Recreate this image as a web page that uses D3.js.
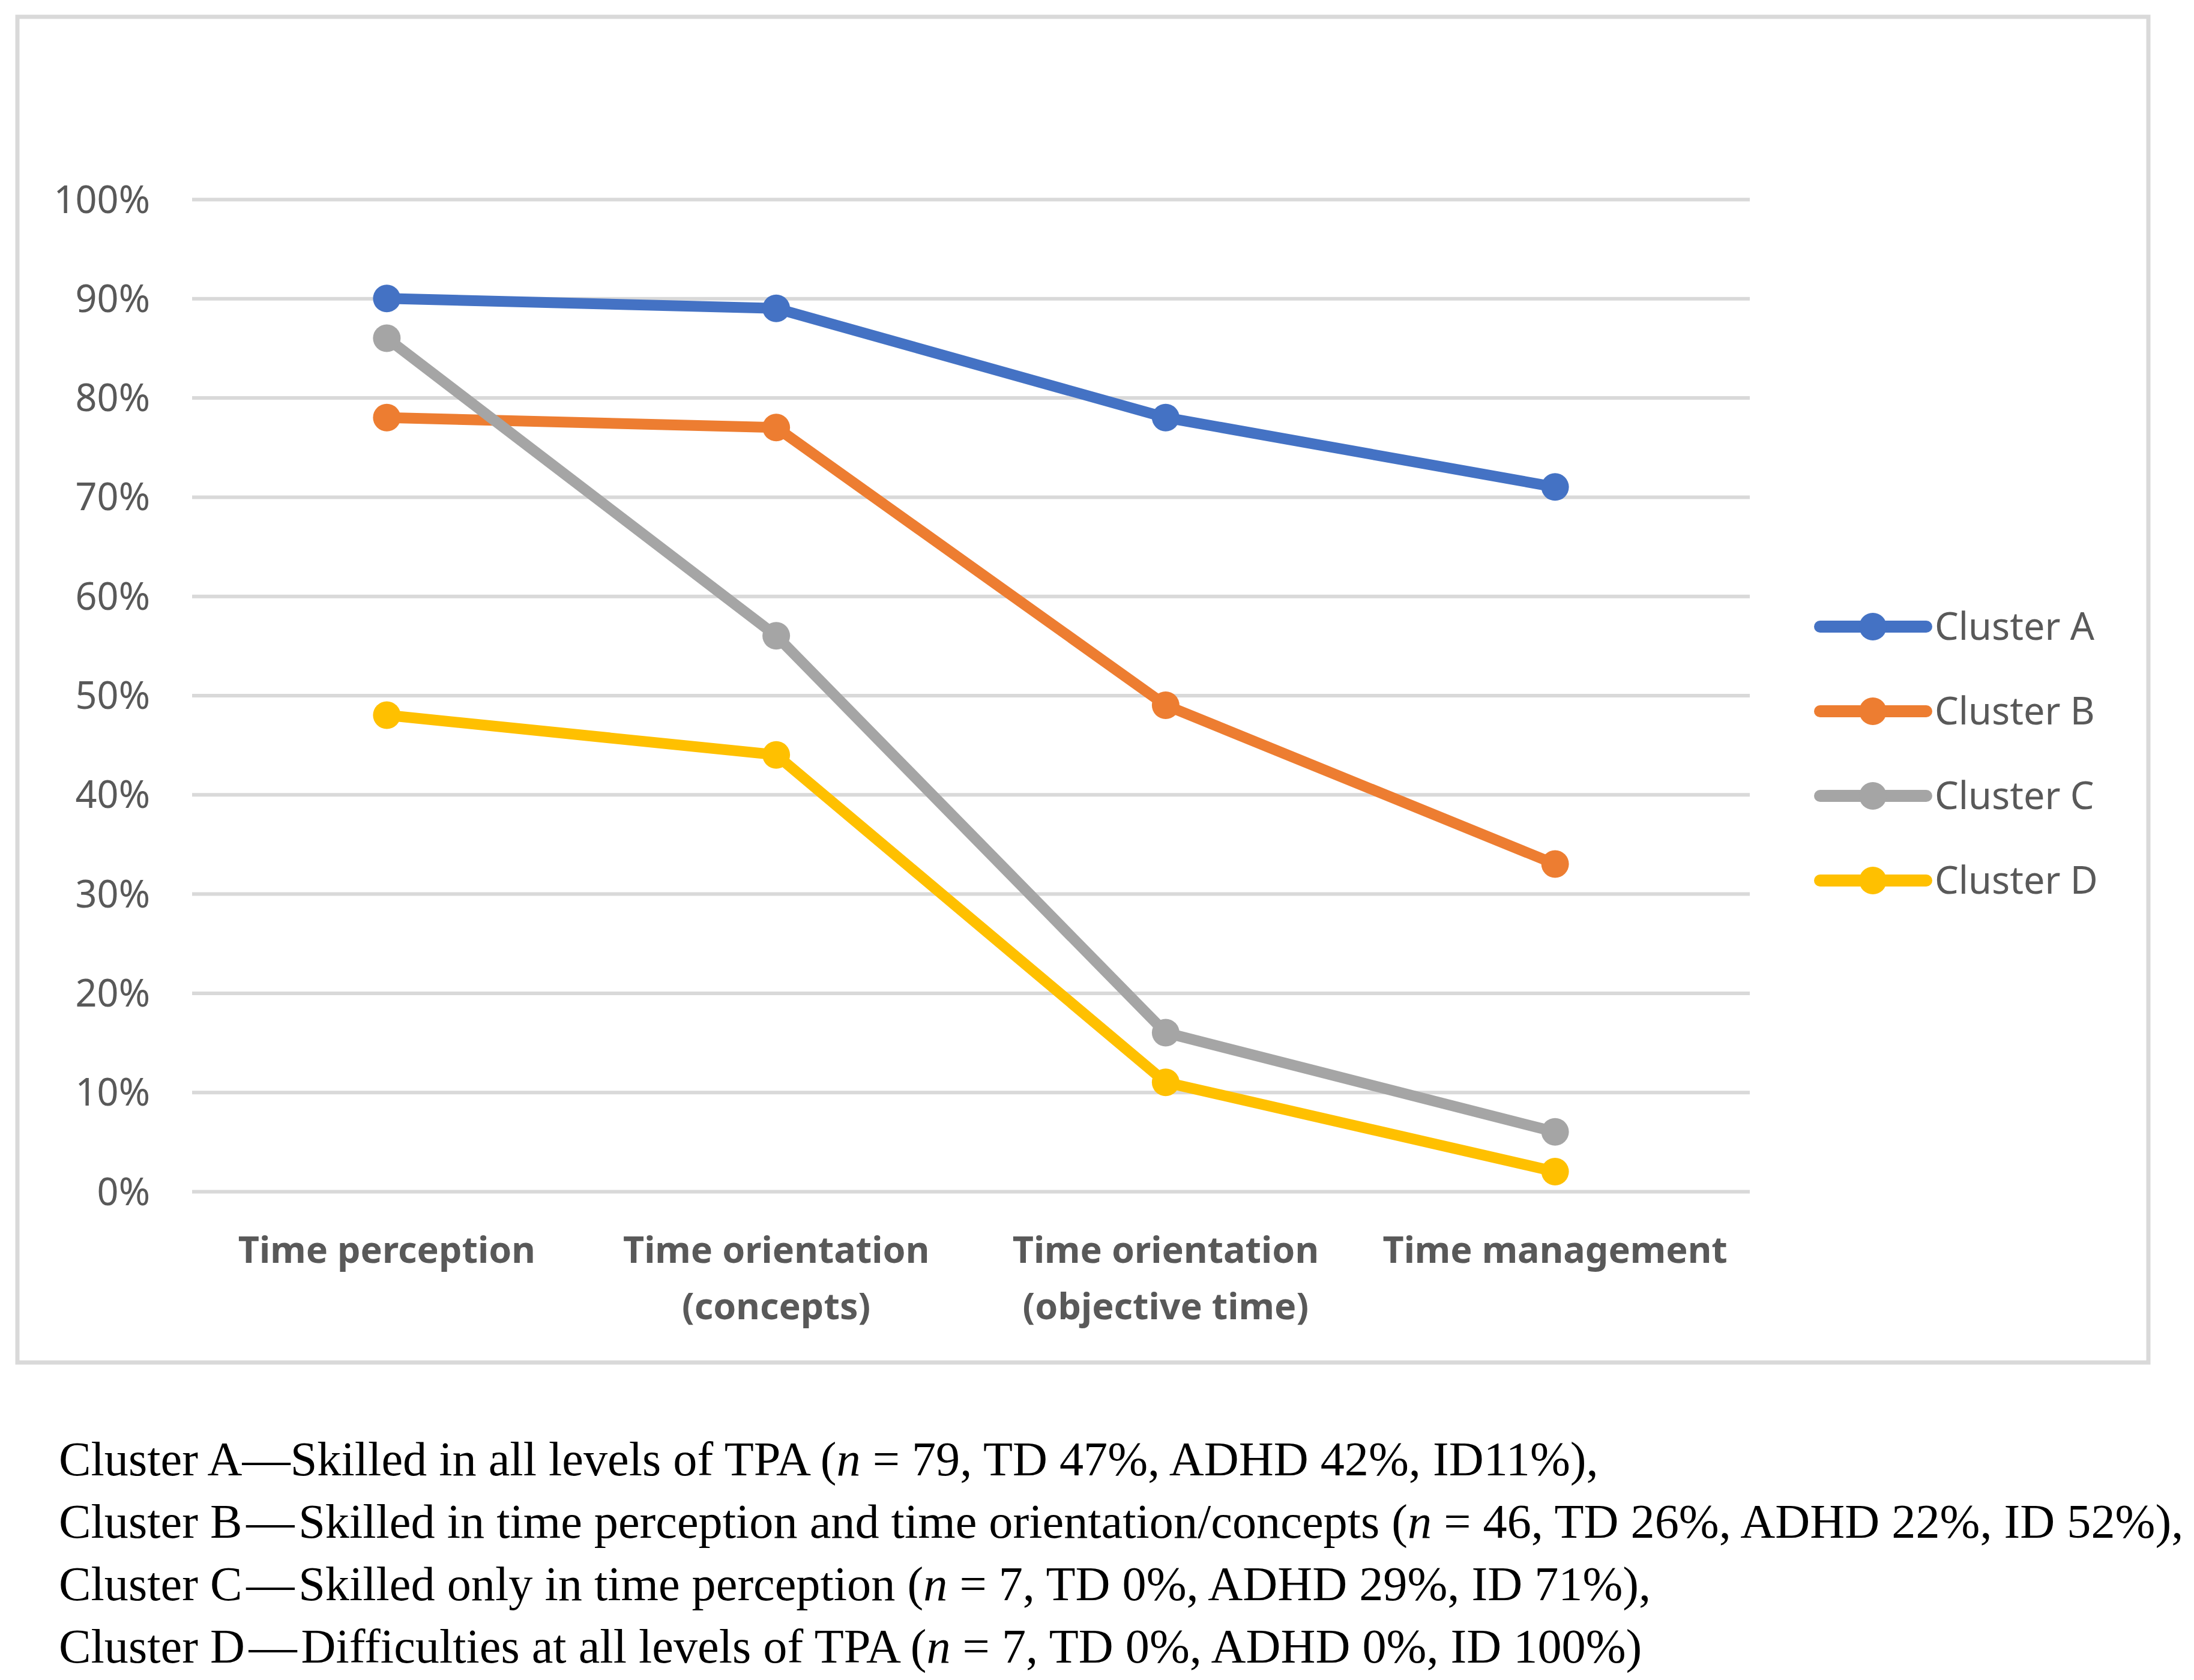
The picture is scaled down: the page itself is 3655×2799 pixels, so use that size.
<!DOCTYPE html>
<html>
<head>
<meta charset="utf-8">
<script src="https://cdn.jsdelivr.net/npm/d3@7"></script>
<style>
  body { margin: 0; background: #fff; }
  svg { display: block; }
</style>
</head>
<body>
<svg id="chart"></svg>
<script>
// chart data
const categories = ["Time perception", "Time orientation (concepts)", "Time orientation (objective time)", "Time management"];
const seriesNames = ["Cluster A", "Cluster B", "Cluster C", "Cluster D"];
const clusterA = [90, 89, 78, 71];
const clusterB = [78, 77, 49, 33];
const clusterC = [86, 56, 16, 6];
const clusterD = [48, 44, 11, 2];
const yTicks = [0, 10, 20, 30, 40, 50, 60, 70, 80, 90, 100];
const colors = ["#4472C4", "#ED7D31", "#A5A5A5", "#FFC000"];

const captionLines = [
  [["Cluster A—Skilled in all levels of TPA (", ""], ["n", "i"], [" = 79, TD 47%, ADHD 42%, ID11%),", ""]],
  [["Cluster B\u200A—\u200ASkilled in time perception and time orientation/concepts (", ""], ["n", "i"], [" = 46, TD 26%, ADHD 22%, ID 52%),", ""]],
  [["Cluster C\u200A—\u200ASkilled only in time perception (", ""], ["n", "i"], [" = 7, TD 0%, ADHD 29%, ID 71%),", ""]],
  [["Cluster D\u200A—\u200ADifficulties at all levels of TPA (", ""], ["n", "i"], [" = 7, TD 0%, ADHD 0%, ID 100%)", ""]]
];

const series = [clusterA, clusterB, clusterC, clusterD].map((vals, i) => ({
  name: seriesNames[i], color: colors[i], values: vals
}));

const W = 3655, H = 2799;
const svg = d3.select("#chart").attr("width", W).attr("height", H);
const font = "'Noto Sans', 'Open Sans', sans-serif";
const textGray = "#595959";
const gridGray = "#D9D9D9";

// frame
svg.append("rect")
  .attr("x", 29).attr("y", 28)
  .attr("width", 3550).attr("height", 2242)
  .attr("fill", "#fff").attr("stroke", gridGray).attr("stroke-width", 7);

const plot = { left: 320, right: 2915, top: 332, bottom: 1985 };

const x = d3.scaleBand().domain(categories).range([plot.left, plot.right]);
const y = d3.scaleLinear().domain([0, 100]).range([plot.bottom, plot.top]);

// gridlines + y labels
const yAxis = d3.axisLeft(y).tickValues(yTicks)
  .tickSize(-(plot.right - plot.left))
  .tickPadding(70)
  .tickFormat(d => d + "%");
const gy = svg.append("g").attr("transform", `translate(${plot.left},0)`).call(yAxis);
gy.select(".domain").remove();
gy.selectAll(".tick line").attr("stroke", gridGray).attr("stroke-width", 6);
gy.selectAll(".tick text")
  .attr("fill", textGray).attr("font-family", font).attr("font-size", 63)
  .attr("dy", "0.35em");

// x labels, wrapped to band width
const xAxis = d3.axisBottom(x).tickSize(0).tickPadding(0);
const gx = svg.append("g").attr("transform", `translate(0,${plot.bottom})`).call(xAxis);
gx.select(".domain").remove();
gx.selectAll(".tick text").each(function(d) {
  const t = d3.select(this)
    .attr("fill", textGray).attr("font-family", font).attr("font-size", 61)
    .attr("font-weight", "bold").attr("y", 0).attr("dy", null).text(null);
  const words = d.split(" ");
  const maxW = x.bandwidth() * 0.95;
  let lines = [], cur = [];
  let ts = t.append("tspan").attr("x", 0);
  words.forEach(w => {
    cur.push(w);
    ts.text(cur.join(" "));
    if (ts.node().getComputedTextLength() > maxW && cur.length > 1) {
      cur.pop();
      lines.push(cur.join(" "));
      cur = [w];
      ts.text(w);
    }
  });
  lines.push(cur.join(" "));
  t.text(null);
  lines.forEach((ln, i) => {
    t.append("tspan").attr("x", 0).attr("y", 119 + i * 94).text(ln);
  });
});

// lines
const line = d3.line()
  .x((d, i) => x(categories[i]) + x.bandwidth() / 2)
  .y(d => y(d));

const sg = svg.append("g").selectAll("g").data(series).join("g");
sg.append("path")
  .attr("d", d => line(d.values))
  .attr("fill", "none").attr("stroke", d => d.color)
  .attr("stroke-width", 18)
  .attr("stroke-linejoin", "round").attr("stroke-linecap", "round");
sg.selectAll("circle").data(d => d.values.map((v, i) => ({ v, i, color: d.color })))
  .join("circle")
  .attr("cx", d => x(categories[d.i]) + x.bandwidth() / 2)
  .attr("cy", d => y(d.v))
  .attr("r", 23)
  .attr("fill", d => d.color);

// legend
const legend = svg.append("g").attr("transform", "translate(3032,1044)");
const li = legend.selectAll("g").data(series).join("g")
  .attr("transform", (d, i) => `translate(0,${i * 141})`);
li.append("line")
  .attr("x1", 0).attr("x2", 177).attr("y1", 0).attr("y2", 0)
  .attr("stroke", d => d.color).attr("stroke-width", 20).attr("stroke-linecap", "round");
li.append("circle").attr("cx", 88).attr("cy", 0).attr("r", 23).attr("fill", d => d.color);
li.append("text")
  .attr("x", 191).attr("y", 0).attr("dy", "0.35em")
  .attr("fill", textGray).attr("font-family", font).attr("font-size", 63)
  .text(d => d.name);

// caption below the frame
const cap = svg.append("g");
const capFont = "'Liberation Serif', 'DejaVu Serif', serif";
const capTexts = captionLines.map((parts, i) => {
  const t = cap.append("text")
    .attr("x", 98).attr("y", 2458 + i * 104)
    .attr("font-family", capFont).attr("font-size", 100).attr("fill", "#000");
  parts.forEach(([s, st]) => {
    t.append("tspan").attr("font-style", st === "i" ? "italic" : "normal").text(s);
  });
  return t;
});
const widest = d3.max(capTexts, t => t.node().getComputedTextLength());
const capSize = 100 * 3540 / widest;
capTexts.forEach(t => t.attr("font-size", capSize));
</script>
</body>
</html>
